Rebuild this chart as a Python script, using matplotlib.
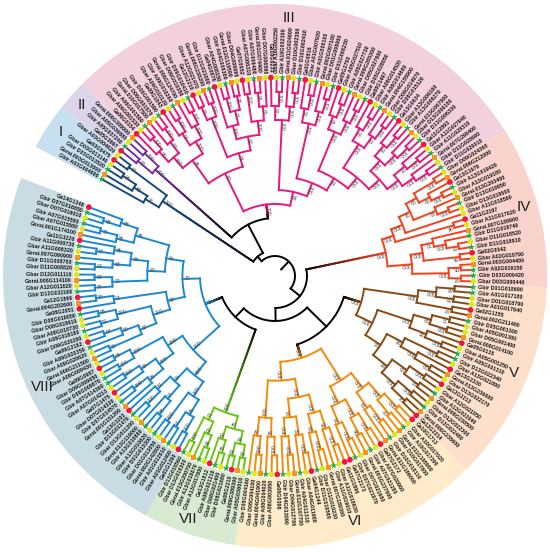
import numpy as np
import matplotlib
matplotlib.use('Agg')
import matplotlib.pyplot as plt
from matplotlib.patches import Wedge
from matplotlib.collections import LineCollection
from matplotlib.colors import to_rgb

# ---- tree data (leaf order runs clockwise, clade I first, clade VIII last) ----
clade_I = ("((Gbir A03G004890,(Gorai.003G013800,(Gbir D03G013520,Gbar D03G013140)94)53)76,"
           "(Ga03G0475,Gbar A03G004620)99)100")

clade_II = "((Ga05G3697,Gbir A05G037240)63,(Gbar A05G036880,Gorai.009G389000)100)100"

clade_III = (
    "((("
    "((Ga06G0154,(Gbar A06G001530,Gbir A06G001560)100)98,(Gorai.010G017500,(Gbar D06G001570,Gbir D06G001590)100)99)100,"
    "((Ga09G1043,(Gbar A09G010120,Gbir A09G010260)100)96,(Gorai.006G124700,(Gbar D09G010350,Gbir D09G010410)100)100)100"
    ")85,("
    "((Ga12G2210,Gbar A12G021470)99,(Gorai.008G238200,Gbir D12G021880)100)100,("
    "(Ga04G0876,((Gbar A04G008150,Gbir A04G008300)100,(Gorai.012G119500,Gbar D04G008690)98)71)100,"
    "((Ga07G0652,Gbar A07G006310)100,((Gbir A07G006480,Gorai.001G074400)93,Gbar D07G006590)88)100"
    ")62)91)80,("
    "((Ga10G0231,(Gbar A10G002250,Gbir A10G002300)100)97,(Gorai.011G024600,(Gbar D10G002380,Gbir D10G002410)100)100)100,("
    "((Ga01G0816,(Gbar A01G007920,Gbir A01G008100)100)99,(Gorai.002G097100,(Gbar D01G008060,Gbir D01G008230)100)100)100,("
    "((Ga05G2790,(Gbar A05G027510,Gbir A05G027730)100)95,(Gorai.009G285300,(Gbar D05G027800,Gbir D05G028050)100)100)100,("
    "((Ga08G1497,(Gbar A08G014520,Gbir A08G014680)100)96,(Gorai.004G155900,(Gbar D08G014970,Gbir D08G015120)100)99)100,("
    "((Ga13G0634,(Gbar A13G006160,Gbir A13G006270)100)91,(Gorai.013G067800,(Gbar D13G006180,Gbir D13G006330)100)100)100,"
    "((Ga11G2893,(Gbar A11G027940,Gbir A11G028310)100)97,(Gorai.007G298400,(Gbar D11G028690,Gbir D11G029010)100)100)100"
    ")100)100)96)100)98)100")

clade_IV = (
    "((((((Gbar D09G024360,Gorai.006G212000)100,(Ga13G1979,(Gbir A13G019420,Gbar A13G019180)100)99)99,"
    "(Gorai.013G203400,(Gbir D13G019950,Gbar D13G019600)100)99)91,Gbar A11G018580)100,(Ga11G2197,Gbar A11G017620)94)100,"
    "(((Gorai.007G189900,(Gbir D11G018740,(Gbar D11G018520,Gbir D11G018610)88)100)70,(Ga02G0042,Gbar A02G018790)66)100,"
    "((Gorai.003G004400,Gbir A02G019150)95,(Gbir D03G000420,Gbar D03G000440)97)100)100)100")

clade_V = (
    "((((Gbir D01G018690,Gbir A01G017180)68,(Gbar D01G018790,Gbar A01G017640)88)100,(Ga02G1255,Gorai.002G211400)97)100,("
    "(((Gbir D05G001300,Gbar A05G001380)72,(Gbar D05G001400,Gorai.009G014100)100)99,(Ga05G0135,(Gbar A05G001250,Gbir A05G001310)100)98)100,("
    "((Gbir D13G022340,Gbar A13G021890)100,(Ga13G2330,(Gorai.013G236000,Gbar D13G022170)99)100)98,"
    "(((Ga12G2213,Gbar A12G021850)100,(Gbir A12G022040,Gorai.008G238500)96)99,((Gbar D12G022300,Gbir D12G022480)100,(Gorai.008G238600,Ga12G2214)91)100)98"
    ")96)100)100")

clade_VI = (
    "(((((Ga10G1713,Gbar A10G017020)100,(Gbir A10G017390,Gorai.011G195900)97)100,((Gbar D10G017800,Gbir D10G018110)100,Gorai.011G196000)99)100,"
    "(((Ga07G2172,Gbar A07G020960)100,(Gbir A07G021280,Gorai.001G237600)98)100,((Gbar D07G021680,Gbir D07G021970)100,Ga07G2173)78)100)100,"
    "(((((Ga11G1896,Gbar A11G018630)100,Gbir A11G019010)95,((Gorai.007G189300,Gbar D11G019230)100,Gbir D11G019560)99)100,"
    "(((Ga04G1244,Gbar A04G011980)100,Gbir A04G012310)82,((Gorai.012G167700,Gbar D04G012700)100,Gbir D04G013090)100)96)100,"
    "(((Ga08G0398,Gbar A08G003950)100,Gbir A08G004020)75,((Gorai.004G041900,Gbar D08G004100)100,Gbir D08G004160)98)100)100)100")

clade_VII = (
    "((((Gbar A05G036010,Gorai.009G389300)92,(Ga08G2210,Gbir D08G021680)61)78,((Gbar D08G021400,Gbir A08G021210)75,Ga13G1812)50)75,"
    "(((Gbar A13G017800,Gbir A13G018070)84,Gorai.013G200700)99,(Gbar D13G018300,Gbir D13G018560)100)71)100")

clade_VIII = (
    "((((((Ga01G1290,Gbar A01G012400)100,(Gbir A01G012610,Gorai.002G142800)96)95,(Gbar D01G013050,Gbir D01G013300)100)100,"
    "(((Gbar A13G010620,Gbir A13G010880)98,Gorai.013G119000)73,((Gbar D13G011200,Gbir D13G011470)100,Ga13G1103)51)99)100,"
    "(((Gorai.001G151200,(Gbir D07G014570,Gbar D07G014330)100)98,(Ga07G1475,(Gbar A07G014213,Gbir A07G014360)100)99)100,"
    "((Gbir D09G009870,Gbar D09G009650)100,(Ga09G0987,Gbar A09G009430)94)100)100)100,"
    "(((((Gorai.006G211500,Gbar A09G020620)90,(Gbir A09G020350,(Ga09G2182,Gbar D09G020280)54)90)62,"
    "((Gbir A08G018180,Gbar A08G018730)51,(Gbar D08G018610,Gbir D08G019050)55)100)100,(Ga08G2051,(Gorai.004G202600,Ga12G1899)90)91)62,"
    "((((Gbir D12G011160,Gbar A12G011820)74,(Gorai.008G114100,Gbar D12G011110)84)72,"
    "(((Gbar D11G008820,Gbir D11G008700)97,Gorai.007G090900)63,((Gbar A11G008320,Gbir A11G008730)87,Ga11G3226)85)98)67,"
    "((Gorai.001G174100,(Gbar A07G015580,Gbir A07G015590)73)85,((Gbar D07G016010,Gbir D07G016850)98,Ga14G1348)98)85)79)70)72")

# backbone joining the clades, "@" gives node radius in pixels
backbone = "((I,(II,III)@58)@26,(IV,((V,VI)@72,(VII,VIII)@57)@45)@32)@20"

clade_names = ['I', 'II', 'III', 'IV', 'V', 'VI', 'VII', 'VIII']
clade_trees = [clade_I, clade_II, clade_III, clade_IV, clade_V, clade_VI, clade_VII, clade_VIII]
clade_root_r = [135, 160, 72, 113, 90, 86, 145, 75]
branch_colors = ['#1b4a7a', '#7a2e9e', '#e8187d', '#f5411e', '#8a4a14', '#f28b0c', '#6cc414', '#1d88d2']
band_colors = ['#c6e0f1', '#dcd5ea', '#f3d0dd', '#f9d3cc', '#fce0cc', '#fdebc9', '#d8ead2', '#c9dce3']
numeral_angle = [146, 138.5, 87, 15.5, -22, -72, -109.6, -154.4]

# ---- geometry ----
R_LEAF = 198
R_LABEL = 203.5
R_BAND_IN, R_BAND_OUT = 202, 272
A_START, A_END = 150.8, -200.3


def parse_newick(s):
    pos = 0

    def node():
        nonlocal pos
        n = {'children': [], 'name': '', 'label': ''}
        if s[pos] == '(':
            pos += 1
            while True:
                n['children'].append(node())
                if s[pos] == ',':
                    pos += 1
                    continue
                pos += 1  # ')'
                break
        start = pos
        while pos < len(s) and s[pos] not in ',()':
            pos += 1
        tok = s[start:pos].strip()
        if n['children']:
            n['label'] = tok
        else:
            n['name'] = tok
        return n
    return node()


def graft(n):
    # swap backbone tips for the clade subtrees
    for i, c in enumerate(n['children']):
        if not c['children'] and c['name'] in clade_names:
            k = clade_names.index(c['name'])
            sub = parse_newick(clade_trees[k])
            sub['clade'] = k
            sub['r'] = clade_root_r[k]
            n['children'][i] = sub
        else:
            graft(c)
    if '@' in n['label']:
        sup, r = n['label'].split('@')
        n['label'] = sup
        n['r'] = float(r)


def paint(n, col, k):
    if 'clade' in n:
        col, k = branch_colors[n['clade']], n['clade']
    n['color'], n['k'] = col, k
    for c in n['children']:
        paint(c, col, k)


def height(n):
    n['h'] = 0 if not n['children'] else 1 + max(height(c) for c in n['children'])
    return n['h']


def set_radius(n, anc_r, anc_h):
    if 'r' in n:
        anc_r, anc_h = n['r'], n['h']
    elif not n['children']:
        n['r'] = R_LEAF
    else:
        n['r'] = R_LEAF - (R_LEAF - anc_r) * n['h'] / anc_h
    for c in n['children']:
        set_radius(c, anc_r, anc_h)


def tips(n, out):
    if not n['children']:
        out.append(n)
    for c in n['children']:
        tips(c, out)
    return out


def set_angle(n):
    if n['children']:
        for c in n['children']:
            set_angle(c)
        n['a'] = (n['children'][0]['a'] + n['children'][-1]['a']) / 2


def xy(r, a):
    t = np.radians(a)
    return r * np.cos(t), r * np.sin(t)


root = parse_newick(backbone)
graft(root)
paint(root, 'black', None)
height(root)
set_radius(root, root['r'], root['h'])
leaves = tips(root, [])
assert len(leaves) == 213, len(leaves)
step = (A_START - A_END) / (len(leaves) - 1)
for i, lf in enumerate(leaves):
    lf['a'] = A_START - i * step
set_angle(root)

fig = plt.figure(figsize=(5.5, 5.52), dpi=100)
ax = fig.add_axes([0, 0, 1, 1])
ax.set_xlim(-275, 275)
ax.set_ylim(-276, 276)
ax.set_aspect('equal')
ax.axis('off')

# coloured bands behind the tip labels
for k in range(len(clade_names)):
    angs = [lf['a'] for lf in leaves if lf['k'] == k]
    ax.add_patch(Wedge((0, 0), R_BAND_OUT, min(angs) - step / 2, max(angs) + step / 2,
                       width=R_BAND_OUT - R_BAND_IN, facecolor=band_colors[k],
                       edgecolor='none', zorder=0))
    tx, ty = xy(258, numeral_angle[k])
    ax.text(tx, ty, clade_names[k], fontsize=11, color='#222222', ha='center',
            va='center', family='Liberation Sans', zorder=5)

LW = 1.4


def draw(n):
    if not n['children']:
        return
    a0, a1 = n['children'][0]['a'], n['children'][-1]['a']
    aa = np.linspace(a0, a1, max(2, int(abs(a1 - a0) * 3)))
    px, py = xy(n['r'], aa)
    ax.plot(px, py, color=n['color'], lw=LW, solid_capstyle='projecting', zorder=2)
    for c in n['children']:
        if 'clade' in c and n['color'] == 'black':
            rr = np.linspace(n['r'], c['r'], 40)
            sx, sy = xy(rr, c['a'])
            segs = [[(sx[j], sy[j]), (sx[j + 1], sy[j + 1])] for j in range(len(rr) - 1)]
            c0, c1 = np.array(to_rgb('black')), np.array(to_rgb(c['color']))
            f = np.linspace(0, 1, len(segs))[:, None] ** 0.8
            ax.add_collection(LineCollection(segs, colors=c0 * (1 - f) + c1 * f,
                                             lw=LW, capstyle='projecting', zorder=2))
        else:
            lx, ly = xy(np.array([n['r'], c['r']]), c['a'])
            ax.plot(lx, ly, color=c['color'], lw=LW, solid_capstyle='projecting', zorder=2)
        if c['children'] and c['label']:
            ta = c['a'] + np.degrees(2.4 / c['r'])
            tx, ty = xy(c['r'] - 2, ta)
            ax.text(tx, ty, c['label'], fontsize=3.7, color='#4a4a4a', rotation=(c['a'] + 180) % 360,
                    rotation_mode='anchor', ha='left', va='bottom', family='Liberation Sans', zorder=4)
        draw(c)


draw(root)
# root stub
sx, sy = xy(np.array([9, root['r']]), root['a'])
ax.plot(sx, sy, color='black', lw=LW, zorder=2)

# tip markers and labels
marker_style = {'Ga': ('o', '#f5143c', 17), 'Gorai': ('s', '#f7941d', 13),
                'Gbar': ('o', '#dde61e', 16), 'Gbir': ('*', '#22b04b', 30)}
for lf in leaves:
    name = lf['name']
    key = 'Gorai' if name.startswith('Gorai') else name[:4] if name[:4] in ('Gbar', 'Gbir') else 'Ga'
    m, col, s = marker_style[key]
    mx, my = xy(R_LEAF + 0.5, lf['a'])
    ax.scatter(mx, my, marker=m, s=s, color=col, edgecolors='none', zorder=3)
    a = lf['a'] % 360
    tx, ty = xy(R_LABEL, lf['a'])
    if 90 < a < 270:
        rot, ha = a - 180, 'right'
    else:
        rot, ha = a, 'left'
    ax.text(tx, ty, name, fontsize=3.9, fontweight='bold', color='#141414', rotation=rot,
            rotation_mode='anchor', ha=ha, va='center', family='Liberation Sans', zorder=4)

fig.savefig('out.png', dpi=100)
